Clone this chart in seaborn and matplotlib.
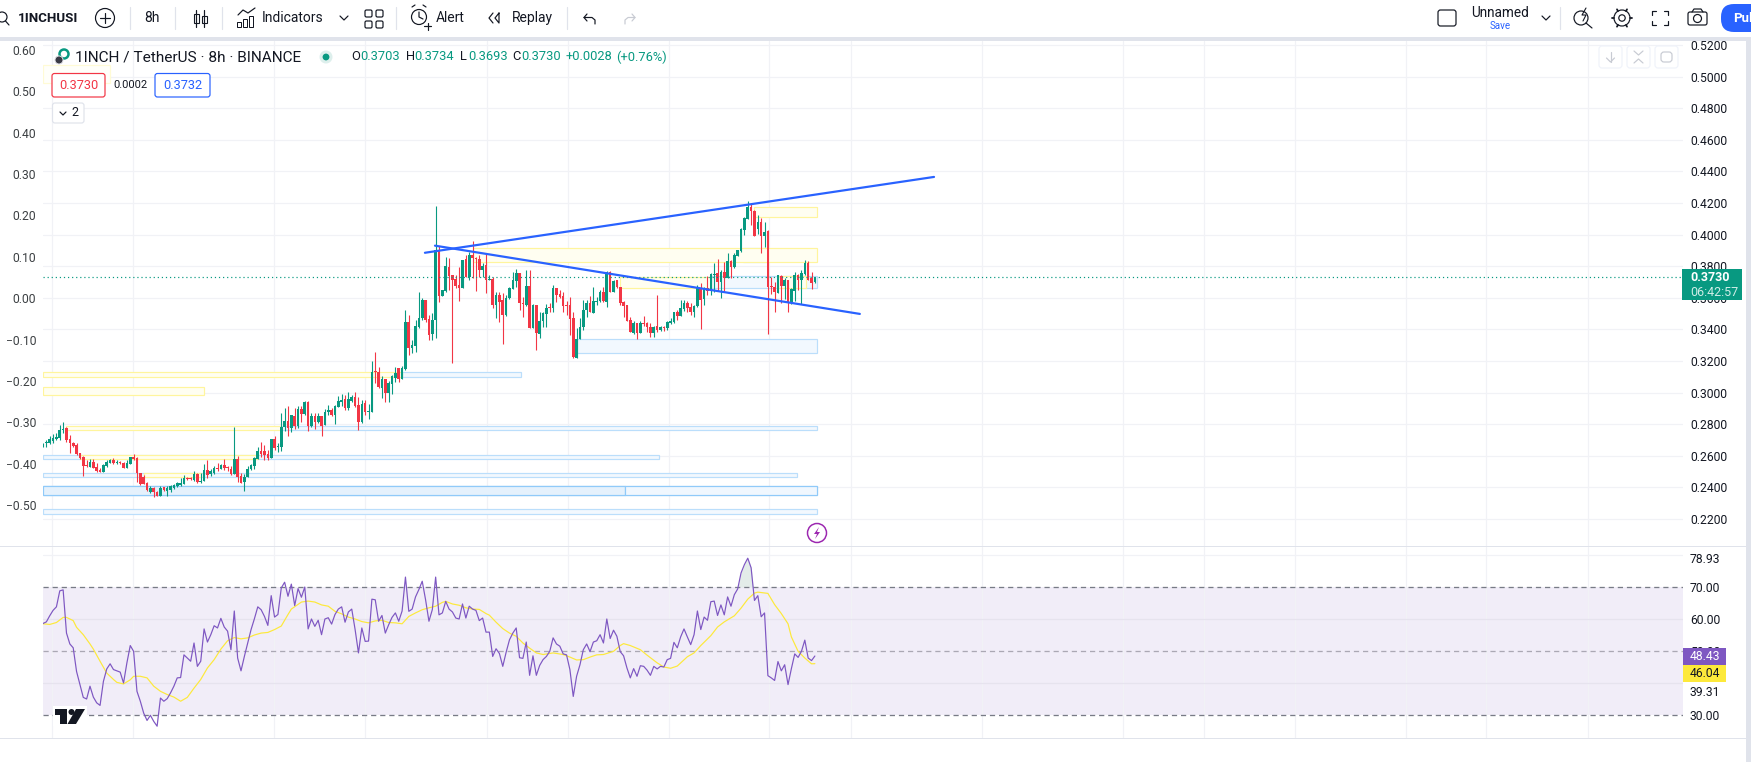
import numpy as np
import matplotlib
matplotlib.use("Agg")
import matplotlib.pyplot as plt
from matplotlib.patches import Rectangle, Circle, FancyBboxPatch, Polygon
import seaborn as sns

W, H = 1751, 762

# candle data, prices in 1/10000
opens = [2664,2679,2683,2693,2704,2710,2763,2773,2708,2679,
         2668,2615,2592,2541,2531,2558,2529,2508,2499,2537,
         2556,2573,2556,2562,2554,2520,2548,2590,2588,2489,
         2468,2430,2373,2394,2373,2347,2400,2377,2383,2396,
         2408,2417,2421,2461,2459,2446,2484,2436,2442,2510,
         2484,2493,2522,2518,2541,2527,2514,2484,2577,2472,
         2434,2468,2514,2535,2579,2630,2630,2611,2588,2706,
         2653,2655,2781,2821,2774,2852,2789,2899,2863,2941,
         2789,2852,2816,2852,2795,2876,2892,2859,2909,2941,
         2958,2901,2947,2973,2922,2812,2933,2880,2880,3135,
         3131,3027,3087,3000,3055,3091,3154,3087,3150,3449,
         3282,3295,3415,3472,3586,3466,3371,3460,3896,3614,
         3643,3797,3745,3719,3681,3664,3844,3734,3871,3854,
         3846,3776,3808,3713,3719,3555,3618,3584,3491,3597,
         3656,3709,3759,3569,3555,3675,3411,3555,3371,3453,
         3498,3538,3534,3662,3622,3612,3553,3553,3470,3221,
         3339,3418,3523,3569,3506,3572,3580,3639,3572,3761,
         3639,3713,3669,3572,3555,3460,3375,3439,3380,3439,
         3443,3413,3380,3424,3394,3413,3407,3443,3449,3512,
         3487,3531,3569,3540,3510,3548,3664,3593,3660,3643,
         3745,3755,3698,3761,3723,3833,3795,3867,3896,4029,
         4099,4177,4150,4036,4078,3994,4025,3675,3671,3631,
         3740,3677,3713,3565,3643,3745,3713,3751,3818,3723,3703]
highs = [2679,2700,2725,2738,2746,2795,2814,2784,2731,2689,
         2683,2619,2598,2573,2577,2577,2552,2520,2548,2573,
         2581,2584,2573,2569,2562,2573,2594,2611,2594,2493,
         2478,2436,2408,2404,2377,2408,2404,2408,2415,2421,
         2434,2457,2478,2468,2468,2505,2489,2489,2548,2573,
         2514,2535,2556,2548,2577,2535,2535,2784,2598,2489,
         2484,2535,2548,2590,2653,2689,2668,2636,2706,2725,
         2683,2868,2901,2916,2859,2901,2916,2916,2947,2947,
         2869,2869,2869,2852,2895,2922,2901,2922,2979,2992,
         2985,3002,2985,3006,2970,2954,2954,2928,3198,3255,
         3165,3106,3087,3074,3112,3165,3154,3169,3523,3491,
         3333,3460,3637,3599,3586,3491,3504,4181,3928,3650,
         3861,3850,3745,3745,3797,3840,3871,3892,3960,3861,
         3871,3818,3875,3745,3734,3635,3635,3629,3618,3671,
         3766,3783,3759,3607,3776,3776,3559,3555,3512,3512,
         3559,3565,3681,3662,3650,3639,3580,3607,3512,3407,
         3470,3586,3584,3612,3667,3605,3650,3671,3770,3770,
         3713,3713,3671,3580,3555,3481,3453,3443,3453,3487,
         3449,3439,3424,3618,3424,3424,3453,3470,3512,3523,
         3586,3586,3580,3565,3555,3681,3692,3671,3738,3755,
         3818,3846,3774,3829,3882,3840,3882,3903,4040,4114,
         4213,4202,4156,4124,4103,4078,4029,3734,3698,3745,
         3745,3723,3713,3660,3766,3749,3776,3840,3833,3766,3734]
lows = [2657,2657,2674,2679,2700,2700,2746,2689,2619,2653,
        2605,2577,2474,2527,2527,2520,2499,2495,2497,2531,
        2552,2548,2548,2548,2522,2520,2548,2573,2436,2415,
        2421,2379,2366,2339,2343,2345,2379,2345,2373,2387,
        2404,2408,2421,2446,2446,2442,2430,2430,2442,2461,
        2472,2484,2505,2514,2510,2505,2478,2484,2436,2425,
        2379,2463,2510,2514,2579,2594,2573,2573,2584,2636,
        2626,2632,2760,2726,2753,2768,2774,2816,2859,2760,
        2781,2768,2810,2726,2793,2859,2852,2802,2907,2916,
        2890,2890,2943,2911,2764,2810,2859,2833,2880,3059,
        3027,2966,2943,2943,2992,3070,3070,3084,3144,3238,
        3251,3257,3409,3460,3447,3333,3333,3344,3576,3610,
        3639,3650,3185,3660,3580,3664,3730,3713,3723,3643,
        3730,3734,3633,3711,3534,3475,3449,3308,3487,3593,
        3656,3671,3523,3481,3551,3411,3407,3270,3348,3417,
        3417,3512,3512,3576,3597,3512,3491,3365,3221,3221,
        3339,3396,3481,3508,3502,3555,3576,3572,3544,3635,
        3635,3660,3555,3481,3453,3382,3369,3339,3375,3424,
        3382,3354,3354,3382,3390,3392,3396,3432,3439,3460,
        3487,3517,3512,3491,3481,3544,3403,3555,3618,3618,
        3639,3643,3601,3643,3723,3723,3791,3867,3892,3998,
        4099,4061,3994,4002,3882,3924,3371,3622,3508,3629,
        3565,3593,3512,3559,3580,3650,3559,3745,3713,3656,3693]
closes = [2672,2689,2704,2712,2719,2763,2769,2700,2679,2662,
          2611,2584,2537,2535,2560,2524,2503,2499,2541,2560,
          2573,2556,2562,2554,2524,2552,2590,2579,2489,2421,
          2421,2383,2394,2373,2347,2398,2383,2394,2411,2417,
          2425,2425,2457,2455,2455,2484,2436,2442,2510,2478,
          2505,2520,2518,2541,2520,2520,2484,2577,2468,2430,
          2463,2518,2541,2584,2632,2613,2605,2586,2706,2649,
          2662,2784,2821,2778,2859,2789,2897,2865,2941,2789,
          2852,2816,2852,2789,2878,2890,2859,2916,2947,2954,
          2901,2960,2973,2916,2816,2928,2876,2886,3131,3131,
          3038,3087,3000,3059,3106,3127,3087,3154,3445,3282,
          3301,3422,3472,3586,3460,3365,3460,3903,3614,3650,
          3802,3738,3713,3677,3664,3840,3730,3871,3850,3848,
          3776,3804,3713,3719,3555,3618,3576,3491,3601,3660,
          3713,3755,3565,3561,3675,3411,3555,3375,3453,3502,
          3538,3534,3662,3618,3605,3548,3548,3466,3226,3339,
          3418,3523,3569,3512,3580,3580,3639,3580,3761,3639,
          3707,3671,3565,3550,3456,3384,3443,3375,3439,3432,
          3413,3380,3418,3394,3415,3407,3445,3451,3508,3487,
          3534,3569,3534,3508,3548,3664,3586,3660,3643,3749,
          3753,3702,3766,3728,3833,3797,3871,3903,4036,4103,
          4177,4152,3994,4078,3994,4019,3671,3669,3635,3745,
          3677,3713,3565,3656,3745,3713,3755,3823,3713,3696,3730]

rsi_values = [58.6,59.1,61.0,62.7,63.8,68.8,69.1,55.6,52.2,51.0,
              43.6,39.5,35.5,35.0,39.0,35.6,33.8,33.0,40.5,44.4,
              46.0,44.2,43.8,43.4,40.0,46.3,51.7,49.9,37.4,34.3,
              30.6,28.3,29.9,28.0,26.5,35.3,34.3,35.1,36.9,39.0,
              41.6,41.7,48.8,47.8,46.8,52.5,45.2,46.8,56.9,52.8,
              55.1,57.9,57.2,60.2,57.5,56.2,50.4,62.5,47.8,43.8,
              48.3,52.5,56.7,60.1,63.8,62.9,60.8,58.0,67.3,60.6,
              61.4,69.7,71.5,67.1,70.9,64.2,69.5,66.8,70.0,56.9,
              60.0,57.7,59.6,55.1,60.0,60.4,58.4,61.4,63.1,63.8,
              59.0,62.2,63.1,56.7,49.4,57.2,53.0,53.1,66.2,66.0,
              59.3,61.1,55.6,58.2,60.5,61.9,59.3,62.5,73.1,62.4,
              63.1,66.9,69.2,71.8,66.0,59.3,62.9,73.1,61.3,61.9,
              65.5,63.1,62.2,60.3,60.0,64.7,60.3,64.0,63.1,62.7,
              59.5,60.3,55.9,55.9,48.3,50.7,49.2,45.2,49.6,53.5,
              55.6,57.2,47.9,47.7,52.8,42.4,48.5,42.4,45.5,47.3,
              48.3,49.9,54.1,52.2,51.5,49.1,48.8,44.2,35.8,42.1,
              45.7,50.4,52.2,49.8,52.8,53.2,55.1,52.5,60.0,53.9,
              56.5,54.6,49.8,48.5,44.7,41.6,44.5,42.1,45.4,45.2,
              44.0,42.4,45.2,44.4,45.2,45.0,47.3,47.7,52.7,51.0,
              54.4,56.9,54.4,52.0,55.1,62.5,56.7,60.6,59.6,65.4,
              65.6,61.1,64.4,61.3,66.9,64.0,67.6,69.4,74.4,77.0,
              79.0,76.0,65.8,67.3,60.7,61.9,42.3,41.6,40.8,46.7,
              43.8,45.7,39.5,44.5,49.1,48.0,49.9,53.4,47.8,47.0,48.43]

# RSI moving average, read at these bars
ma_bars = [0,2,4,6,7,9,10,12,14,15,17,19,21,22,24,26,27,29,31,33,35,37,39,41,43,45,47,49,51,53,
           55,57,59,61,63,65,67,69,71,73,74,77,79,81,83,85,87,89,91,93,95,97,99,101,103,105,107,109,111,113,
           115,117,119,120,122,124,126,128,130,132,133,135,137,139,141,143,145,147,149,152,155,157,159,161,163,165,167,170,172,173,
           175,178,180,183,185,187,189,192,194,196,199,201,203,206,208,210,212,213,216,218,220,222,223,225,227,229,230]
ma_values = [58.5,58.3,58.9,60.5,60.5,59.5,57.4,55.1,52.2,50.6,46.8,43.1,41.1,40.2,39.7,41.0,42.1,42.1,41.6,39.0,37.4,36.4,35.6,34.3,35.5,38.4,41.1,44.7,47.3,50.6,
             53.2,54.2,53.8,54.1,55.0,55.6,55.8,56.7,57.8,61.4,63.1,65.3,65.6,65.3,64.4,64.0,62.4,61.6,60.6,60.0,59.2,58.8,59.4,59.6,58.9,58.8,58.5,60.8,61.9,62.9,
             63.5,64.0,65.2,65.5,64.7,64.3,63.5,63.1,63.0,61.7,61.2,59.0,57.0,55.6,54.6,52.5,50.9,49.4,48.9,49.4,48.9,48.1,47.2,47.3,48.1,48.8,48.9,49.9,51.7,52.3,
             51.7,50.4,48.7,46.3,45.0,44.6,45.3,48.2,49.4,51.7,54.8,57.5,59.1,61.0,63.4,66.2,68.1,68.4,68.0,64.5,61.7,58.5,54.4,49.9,47.8,46.0,46.04]

# drawn boxes: start bar, end bar, upper price, lower price
yellow_boxes_start = [0, 0, 7, 11, 30, 128, 212, 172, 219]
yellow_boxes_end = [107, 48, 71, 64, 47, 230.5, 230.5, 199, 227.5]
yellow_boxes_top = [3129, 3034, 2791, 2608, 2488, 3913, 4177, 3730, 3738]
yellow_boxes_bottom = [3097, 2983, 2761, 2577, 2464, 3828, 4113, 3660, 3660]
faint_box_start, faint_box_end, faint_box_top, faint_box_bottom = 0, 20, 5073, 4961

blue_boxes_start = [107, 71, 0, 0, 0, 0, 0, 159, 208.5, 199]
blue_boxes_end = [142.4, 230.5, 183.5, 224.7, 230.5, 173.4, 230.5, 230.5, 216, 230.5]
blue_boxes_top = [3129, 2791, 2608, 2488, 2407, 2407, 2261, 3337, 3913, 3738]
blue_boxes_bottom = [3097, 2761, 2577, 2464, 2354, 2354, 2234, 3253, 3828, 3660]

# trend lines: (bar, price) of the two ends
upper_trend_bars = [113.8, 265.5]
upper_trend_prices = [0.3885, 0.4365]
lower_trend_bars = [116.8, 243.4]
lower_trend_prices = [0.3930, 0.3498]

price_ticks = [0.22, 0.24, 0.26, 0.28, 0.30, 0.32, 0.34, 0.36, 0.38, 0.40, 0.42, 0.44, 0.46, 0.48, 0.50, 0.52]
pct_ticks = [-0.50, -0.40, -0.30, -0.20, -0.10, 0.00, 0.10, 0.20, 0.30, 0.40, 0.50, 0.60]
pct_labels = ["\u22120.50", "\u22120.40", "\u22120.30", "\u22120.20", "\u22120.10", "0.00",
              "0.10", "0.20", "0.30", "0.40", "0.50", "0.60"]
time_grid_bars = [2.7, 26.8, 68.8, 95.9, 132.3, 156.4, 186.5, 216.3, 240.8, 279.8, 321.8, 346, 373, 406.1, 430, 460.4]
last_price = 0.3730

TEAL = "#089981"
RED = "#F23645"
GRID = "#F1F2F6"
TEXT = "#131722"
PURPLE = "#7E57C2"
YELLOW = "#FDE93B"
BLUE = "#2962FF"
LINE_GREY = "#E0E3EB"
PX = 72 / 100  # one pixel in points

sns.set_theme(style="white")
plt.rcParams["font.family"] = ["Roboto", "DejaVu Sans"]

fig = plt.figure(figsize=(W / 100, H / 100), dpi=100, facecolor="white")


def pane(top, bottom):
    return fig.add_axes([43 / W, 1 - bottom / H, (1683 - 43) / W, (bottom - top) / H])


ax = pane(41, 546)
ax_rsi = pane(547, 738)

bars = np.arange(len(opens))
o = np.array(opens) / 10000
h = np.array(highs) / 10000
l = np.array(lows) / 10000
c = np.array(closes) / 10000
up = c >= o
colors = np.where(up, TEAL, RED)

x_max = (1683 - 43) / 3.356
for a in (ax, ax_rsi):
    a.set_xlim(0, x_max)
    a.set_xticks([])
    a.set_facecolor("white")
    sns.despine(ax=a, left=True, bottom=True, right=True, top=True)
    for g in time_grid_bars:
        a.axvline(g, color=GRID, lw=1.2 * PX, zorder=1)

# price pane
ax.set_ylim(0.52 - 501 / 1580, 0.52 + 4 / 1580)
ax.grid(False)
for p in price_ticks:
    ax.axhline(p, color=GRID, lw=1.2 * PX, zorder=1)

ax_pct = ax.twinx()
ax_pct.set_ylim(-0.5991, 0.6218)
ax_pct.yaxis.tick_left()
ax_pct.set_yticks(pct_ticks)
ax_pct.set_yticklabels(pct_labels, fontsize=8.7, color="#3C4043")
ax_pct.tick_params(axis="y", length=0, pad=5)
ax_pct.grid(False)
sns.despine(ax=ax_pct, left=True, bottom=True, right=True, top=True)
ax_pct.patch.set_alpha(0)

# twinx flips the main axis to the left, so set it after
ax.yaxis.tick_right()
ax.set_yticks(price_ticks)
ax.set_yticklabels([f"{p:.4f}" for p in price_ticks], fontsize=8.7, color=TEXT)
ax.tick_params(axis="y", length=0, pad=5)


def draw_boxes(starts, ends, tops, bottoms, edge, fill):
    for x0, x1, t, b in zip(starts, ends, tops, bottoms):
        ax.add_patch(Rectangle((x0, b / 10000), x1 - x0, (t - b) / 10000, facecolor=fill,
                               edgecolor=edge, lw=1.2 * PX, zorder=2))


draw_boxes(blue_boxes_start, blue_boxes_end, blue_boxes_top, blue_boxes_bottom, "#BBDEFB", "#F2F8FE")
draw_boxes(yellow_boxes_start, yellow_boxes_end, yellow_boxes_top, yellow_boxes_bottom, "#FFF59D", "#FFFEF1")
draw_boxes([faint_box_start], [faint_box_end], [faint_box_top], [faint_box_bottom], "#FFFBD5", "#FFFFFA")
# the doubled box at the bottom reads darker
ax.add_patch(Rectangle((0, 0.2354), 173.4, 0.0053, facecolor="#E5F1FC", edgecolor="#90CAF9", lw=1.2 * PX, zorder=2.1))
ax.add_patch(Rectangle((173.4, 0.2354), 57.1, 0.0053, facecolor="#F0F7FE", edgecolor="#90CAF9", lw=1.2 * PX, zorder=2.1))

# candles
ax.vlines(bars, l, h, colors=colors, lw=1.1 * PX, zorder=3)
body_low = np.minimum(o, c)
body_h = np.maximum(np.abs(c - o), 0.0006)
ax.bar(bars, body_h, bottom=body_low, width=0.78, color=colors, linewidth=0, zorder=3.1)

ax.axhline(last_price, color=TEAL, lw=1.2 * PX, ls=(0, (1, 2.4)), zorder=3.5)

sns.lineplot(x=upper_trend_bars, y=upper_trend_prices, ax=ax, color=BLUE, lw=2.2 * PX, zorder=4, legend=False)
sns.lineplot(x=lower_trend_bars, y=lower_trend_prices, ax=ax, color=BLUE, lw=2.2 * PX, zorder=4, legend=False)
ax.set_xlabel("")
ax.set_ylabel("")

# rsi pane
ax_rsi.set_ylim(70 - 151 / 3.2, 70 + 40 / 3.2)
ax_rsi.axhspan(30, 70, color=PURPLE, alpha=0.105, lw=0, zorder=0.5)
for lvl in (40, 60, 80):
    ax_rsi.axhline(lvl, color="#E6E3EE" if lvl < 70 else GRID, lw=1.2 * PX, zorder=1)
ax_rsi.axhline(70, color="#787B86", lw=1.3 * PX, ls=(0, (4, 3)), zorder=2)
ax_rsi.axhline(50, color="#ABA8B4", lw=1.3 * PX, ls=(0, (4, 3)), zorder=2)
ax_rsi.axhline(30, color="#787B86", lw=1.3 * PX, ls=(0, (4, 3)), zorder=2)

rsi = np.array(rsi_values)
ax_rsi.fill_between(bars, 70, rsi, where=(rsi > 70) & (bars > 200), color="#E3ECE9", lw=0, zorder=1.5, interpolate=True)
sns.lineplot(x=ma_bars, y=ma_values, ax=ax_rsi, color=YELLOW, lw=1.2 * PX, zorder=3, legend=False)
sns.lineplot(x=bars, y=rsi_values, ax=ax_rsi, color=PURPLE, lw=1.2 * PX, zorder=4, legend=False)
ax_rsi.set_xlabel("")
ax_rsi.set_ylabel("")
ax_rsi.yaxis.tick_right()
ax_rsi.set_yticks([30, 37.6, 50, 60, 70, 78.93])
ax_rsi.set_yticklabels(["30.00", "39.31", "50.00", "60.00", "70.00", "78.93"], fontsize=8.7, color=TEXT)
ax_rsi.tick_params(axis="y", length=0, pad=5)
ax_rsi.grid(False)

# screen chrome on top, in pixels
ui = fig.add_axes([0, 0, 1, 1], zorder=10)
ui.set_xlim(0, W)
ui.set_ylim(H, 0)
ui.axis("off")
ui.patch.set_alpha(0)


def txt(x, y, s, size=9.5, color=TEXT, ha="left", va="center", **kw):
    ui.text(x, y, s, fontsize=size, color=color, ha=ha, va=va, **kw)


def line(xs, ys, color=TEXT, lw=1.2, **kw):
    ui.plot(xs, ys, color=color, lw=lw * PX, solid_capstyle="round", **kw)


def rbox(x0, y0, x1, y1, edge, face="white", r=2.5, lw=1.2):
    ui.add_patch(FancyBboxPatch((x0, y0), x1 - x0, y1 - y0, boxstyle=f"round,pad=0,rounding_size={r}",
                                edgecolor=edge, facecolor=face, lw=lw * PX))


def ring(x, y, r, edge=TEXT, face="none", lw=1.2):
    ui.add_patch(Circle((x, y), r, edgecolor=edge, facecolor=face, lw=lw * PX))


# frame strips
ui.add_patch(Rectangle((0, 37), W, 4, color=LINE_GREY, lw=0))
ui.add_patch(Rectangle((1746, 41), 5, H - 41, color=LINE_GREY, lw=0))
ui.add_patch(Rectangle((0, 546), 1746, 1.3, color=LINE_GREY, lw=0))
ui.add_patch(Rectangle((0, 738), 1746, 1.3, color=LINE_GREY, lw=0))

# toolbar left
ring(2, 17, 5)
line([5.5, 9], [21, 25])
txt(18, 18, "1INCHUSI", size=9.6, fontweight="bold")
ring(105, 18, 9.5)
line([100, 110], [18, 18])
line([105, 105], [13, 23])
for sx in (130, 175, 222, 396, 567):
    line([sx, sx], [7, 29], color=LINE_GREY)
txt(152, 18, "8h", size=10, ha="center")
line([196, 196], [10, 27])
line([204, 204], [10, 27])
ui.add_patch(Rectangle((193.5, 14), 5, 9, edgecolor=TEXT, facecolor="white", lw=1.1 * PX))
ui.add_patch(Rectangle((201.5, 16), 5, 7, edgecolor=TEXT, facecolor="white", lw=1.1 * PX))
for bx, bt in ((239, 22), (245, 19), (251, 16)):
    ui.add_patch(Rectangle((bx - 2, bt), 4, 27 - bt, edgecolor=TEXT, facecolor="white", lw=1.0 * PX))
line([238, 243, 248, 255], [15, 10, 13, 8])
txt(262, 18, "Indicators", size=10)
line([340, 344, 348], [16, 20, 16])
for gx in (365, 376):
    for gy in (10, 21):
        rbox(gx, gy, gx + 7, gy + 7, TEXT, r=1.5)
ring(419, 17, 7.5)
line([419, 419, 423], [12, 17, 19])
line([412, 415], [7, 5])
line([426, 423], [7, 5])
line([424, 431], [26, 26])
line([427.5, 427.5], [22.5, 29.5])
txt(436, 18, "Alert", size=10)
line([493, 489, 493], [13, 18, 23])
line([499, 495, 499, 499], [13, 18, 23, 13])
txt(512, 18, "Replay", size=10)
line([587, 584, 587], [14, 17.5, 21])
line([584, 592, 595, 595], [17.5, 17.5, 20, 24])
line([632, 635, 632], [14, 17.5, 21], color="#C8CBD3")
line([635, 628, 625, 625], [17.5, 17.5, 20, 24], color="#C8CBD3")

# toolbar right
rbox(1438, 10, 1456, 26, TEXT, r=2.5)
txt(1500, 13, "Unnamed", size=9.8, ha="center")
txt(1500, 26, "Save", size=7, color=BLUE, ha="center")
line([1542, 1546, 1550], [16, 20, 16])
line([1560, 1560], [7, 29], color=LINE_GREY)
ring(1581, 18, 7)
line([1586, 1592], [23, 28])
line([1586, 1582, 1586, 1583], [8, 15, 15, 21], lw=1.1)
ring(1622, 18, 3.2)
ring(1622, 18, 8)
for ang in np.arange(0, 360, 60):
    ca, sa = np.cos(np.radians(ang)), np.sin(np.radians(ang))
    line([1622 + 8 * ca, 1622 + 10 * ca], [18 + 8 * sa, 18 + 10 * sa], lw=1.8)
for cx, dx in ((1652, 1), (1668, -1)):
    for cy, dy in ((11, 1), (25, -1)):
        line([cx + 4 * dx, cx, cx], [cy, cy, cy + 4 * dy])
rbox(1688, 12, 1707, 25, TEXT, r=2)
ring(1697.5, 18.5, 4)
line([1692, 1694, 1701, 1703], [12, 9, 9, 12])
ui.add_patch(FancyBboxPatch((1721, 4), 60, 28, boxstyle="round,pad=0,rounding_size=13", color=BLUE, lw=0))
ui.text(1733, 18, "Pul", fontsize=9.5, color="white", fontweight="bold", va="center", clip_on=True)

# legend row
ring(64, 54, 4.5, edge=TEAL, lw=2.5)
ring(59, 60, 4, edge="#DDDDE2", face="#3A3A45", lw=1)
txt(75, 57, "1INCH / TetherUS \u00b7 8h \u00b7 BINANCE", size=11.1, color=TEXT)
ui.add_patch(Circle((326, 57), 6.5, color="#DDEFEC", lw=0))
ui.add_patch(Circle((326, 57), 3.4, color=TEAL, lw=0))
for lx, s in ((351, "O"), (406, "H"), (460, "L"), (512, "C")):
    txt(lx, 57, s, size=9.3)
for lx, s in ((360, "0.3703"), (414, "0.3734"), (468, "0.3693"), (521, "0.3730"), (566, "+0.0028"), (616, "(+0.76%)")):
    txt(lx, 57, s, size=9.3, color=TEAL)
rbox(52, 73.5, 105, 97, RED)
txt(78.5, 85.5, "0.3730", size=9.2, color=RED, ha="center")
txt(130, 85.5, "0.0002", size=8, ha="center")
rbox(155, 73.5, 210, 97, BLUE)
txt(182.5, 85.5, "0.3732", size=9.2, color=BLUE, ha="center")
rbox(52.5, 103, 84, 123, LINE_GREY)
line([60, 63, 66], [112, 115, 112])
txt(75, 113, "2", size=9, ha="center")

# small buttons top right of chart
for bx in (1599, 1627, 1655):
    rbox(bx, 46, bx + 23, 68, "#F0F3FA", r=3)
line([1610.5, 1610.5], [52, 62], color="#C8CBD3")
line([1606.5, 1610.5, 1614.5], [58, 62, 58], color="#C8CBD3")
line([1634, 1638.5, 1643], [51, 55, 51], color="#C8CBD3")
line([1634, 1638.5, 1643], [63, 59, 63], color="#C8CBD3")
rbox(1661, 52, 1672, 62, "#C8CBD3", r=3)

# last price tags
ui.add_patch(Rectangle((1682, 269), 60, 31, color=TEAL, lw=0, zorder=5))
ui.text(1690, 277.5, "0.3730", fontsize=9, color="white", fontweight="bold", va="center", zorder=6)
ui.text(1690, 292, "06:42:57", fontsize=9, color="#CFEDE7", va="center", zorder=6)
ui.add_patch(Rectangle((1683, 648), 43, 17, color=PURPLE, lw=0, zorder=5))
ui.text(1704.5, 656.5, "48.43", fontsize=8.7, color="white", ha="center", va="center", zorder=6)
ui.add_patch(Rectangle((1683, 665), 43, 17, color=YELLOW, lw=0, zorder=5))
ui.text(1704.5, 673.5, "46.04", fontsize=8.7, color=TEXT, ha="center", va="center", zorder=6)

# lightning marker under the last bar
ring(817, 533, 9.5, edge="#9C27B0", lw=1.5)
ui.add_patch(Polygon([(819, 527), (814, 534), (817, 534), (815, 539), (820, 532), (817, 532)], color="#9C27B0", lw=0))

# logo in the rsi pane
ui.add_patch(Rectangle((53, 706), 34, 20, color="white", lw=0))
ui.add_patch(Polygon([(55, 709), (67, 709), (67, 724), (60, 724), (60, 715), (55, 715)], color=TEXT, lw=0))
ui.add_patch(Circle((71.5, 712), 3, color=TEXT, lw=0))
ui.add_patch(Polygon([(76, 709), (85, 709), (76, 724), (67.5, 724)], color=TEXT, lw=0))

fig.savefig("out.png", dpi=100)
